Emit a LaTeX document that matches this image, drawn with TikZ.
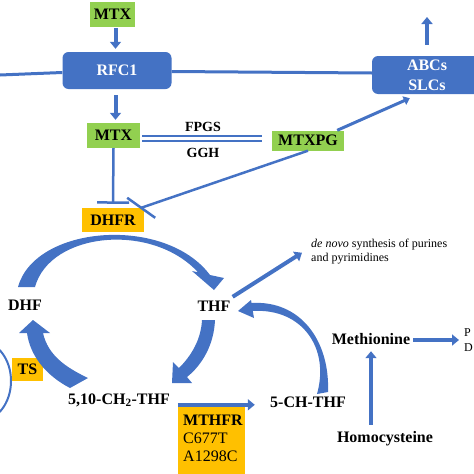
\documentclass[tikz,border=0pt]{standalone}
\usepackage{fontspec}
\setmainfont{Liberation Serif}
\usetikzlibrary{arrows.meta,calc}
\definecolor{bl}{HTML}{4472C4}
\definecolor{gr}{HTML}{92D050}
\definecolor{go}{HTML}{FFC000}
\begin{document}
\begin{tikzpicture}[x=1pt,y=-1pt,
  gbox/.style={fill=gr, inner sep=0pt, font=\fontsize{16}{18}\selectfont\bfseries},
  obox/.style={fill=go, inner sep=0pt, font=\fontsize{16}{18}\selectfont\bfseries},
  rbox/.style={fill=bl, rounded corners=6pt, inner sep=0pt, text=white, font=\fontsize{16}{20}\selectfont\bfseries},
  tx/.style={inner sep=0pt, text height=11pt, text depth=3pt, font=\fontsize{16}{18}\selectfont\bfseries},
  sb/.style={inner sep=0pt, font=\fontsize{14}{16}\selectfont\bfseries},
  fat/.style={draw=bl, line width=4pt, -{Triangle[width=11pt,length=7pt]}},
  mid/.style={draw=bl, line width=3pt, -{Triangle[width=9pt,length=6pt]}},
  memb/.style={draw=bl, line width=3pt},
  inh/.style={draw=bl, line width=2.5pt},
  curv/.style={fill=bl}]
\useasboundingbox (0,0) rectangle (474,474);
\clip (0,0) rectangle (474,474);

% boxes
\node[gbox, minimum width=45pt, minimum height=25pt] (mtxA) at (112.5,14.5) {MTX};
\node[rbox, minimum width=109pt, minimum height=37pt] (rfc) at (117,70.5) {RFC1};
\node[rbox, minimum width=110pt, minimum height=38pt, align=center] (abc) at (427,75) {ABCs\\SLCs};
\node[gbox, minimum width=53pt, minimum height=25pt] (mtxB) at (113.5,135.5) {MTX};
\node[gbox, minimum width=72pt, minimum height=20pt] (mtxpg) at (308,140.5) {MTXPG};
\node[obox, minimum width=62pt, minimum height=24pt] (dhfr) at (113,220) {DHFR};
\node[obox, minimum width=31pt, minimum height=23pt] (ts) at (27.5,369.5) {TS};
\node[obox, minimum width=67pt, minimum height=69pt] (mthfr) at (211.5,441.5) {};
\node[inner sep=0pt, anchor=west, align=left, font=\fontsize{16}{18}\selectfont] (mthfrtxt) at (183,438) {\textbf{MTHFR}\\C677T\\A1298C};

% text labels
\node[sb] (fpgs) at (203,127) {FPGS};
\node[sb] (ggh) at (203,153) {GGH};
\node[tx] (dhf) at (25,306) {DHF};
\node[tx] (thf) at (214,307) {THF};
\node[tx] (c510) at (119,400) {5,10-CH\textsubscript{2}-THF};
\node[tx] (c5ch) at (308,403) {5-CH-THF};
\node[tx] (meth) at (371,340) {Methionine};
\node[tx] (homo) at (385,438) {Homocysteine};
\node[anchor=north west, align=left, inner sep=0pt, font=\fontsize{12}{14}\selectfont] (denovo) at (311,239) {\textit{de novo} synthesis of purines\\and pyrimidines};
\node[anchor=west, align=left, inner sep=0pt, font=\fontsize{12}{15}\selectfont] (pd) at (464,340) {P\\D};

% membrane
\coordinate (memL) at (0,75);
\draw[memb] (memL) -- ([yshift=-2pt]rfc.west);
\draw[memb] ([yshift=-1pt]rfc.east) -- ([yshift=2pt]abc.west);

% straight arrows
\draw[fat] ($(mtxA.south)+(3,1)$) -- ($(rfc.north)+(-1.5,-3)$);
\draw[fat] ($(rfc.south)+(-1.5,6)$) -- ($(mtxB.north)+(2,-3)$);
\coordinate (abcUp) at (427,17);
\draw[fat] ($(abc.north)+(0,-11)$) -- (abcUp);
\draw[bl, line width=1.8pt, double=white, double distance=3.2pt] ($(mtxB.east)+(2,3)$) -- ($(mtxpg.west)+(-10,-2)$);
\draw[mid] ($(mtxpg.north east)+(-7,0)$) -- ($(abc.south west)+(38,4)$);
\draw[fat] ($(thf.north east)+(2,-3)$) -- ($(denovo.west)+(-9,1)$);
\draw[fat] ([yshift=2pt]mthfr.north west) -- ($(mthfr.north west)+(77,-2)$);
\draw[fat] ($(meth.east)+(3,0)$) -- ($(pd.west)+(-5,0)$);
\draw[fat] (homo.north -| meth.south) ++(0,-6) -- ($(meth.south)+(0,4)$);

% inhibitions
\draw[inh, -{Bar[width=32pt,line width=2.5pt]}] (mtxB.south) -- ($(dhfr.north)+(0,-4)$);
\coordinate (inhEnd) at ($(dhfr.north east)+(-3,0)$);
\draw[inh] (mtxpg.south) -- (inhEnd);
\draw[inh] ($(inhEnd)+(-14,-10)$) -- ($(inhEnd)+(14,10)$);

% curved block arrows
\fill[curv] (18,287) .. controls (35,225) and (165,215) .. (210,275) -- (224,278) -- (214,290) -- (192,271) -- (198,272.3) .. controls (152,222) and (50,232) .. (35,287) -- cycle;
\fill[curv] (202,320) -- (215,320) .. controls (214,345) and (202,365) .. (187,377) -- (192,383) -- (172,383) -- (173,362) -- (179,368) .. controls (191,356) and (201,340) .. (202,320) -- cycle;
\fill[curv] (70,388) .. controls (45,375) and (30,355) .. (27,333) -- (19,333) -- (33,320) -- (50,333) -- (43,333) .. controls (48,355) and (65,367) .. (88,378) -- cycle;
\fill[curv] (317,394) .. controls (330,348) and (302,308) .. (252.8,311) -- (254,318) -- (238,311) -- (251,300) -- (251.5,303) .. controls (300,300) and (330,340) .. (328,392) -- cycle;

% thin ring at left edge
\draw[bl, line width=2pt] (-20,381) ellipse [x radius=31, y radius=40];
\end{tikzpicture}
\end{document}
